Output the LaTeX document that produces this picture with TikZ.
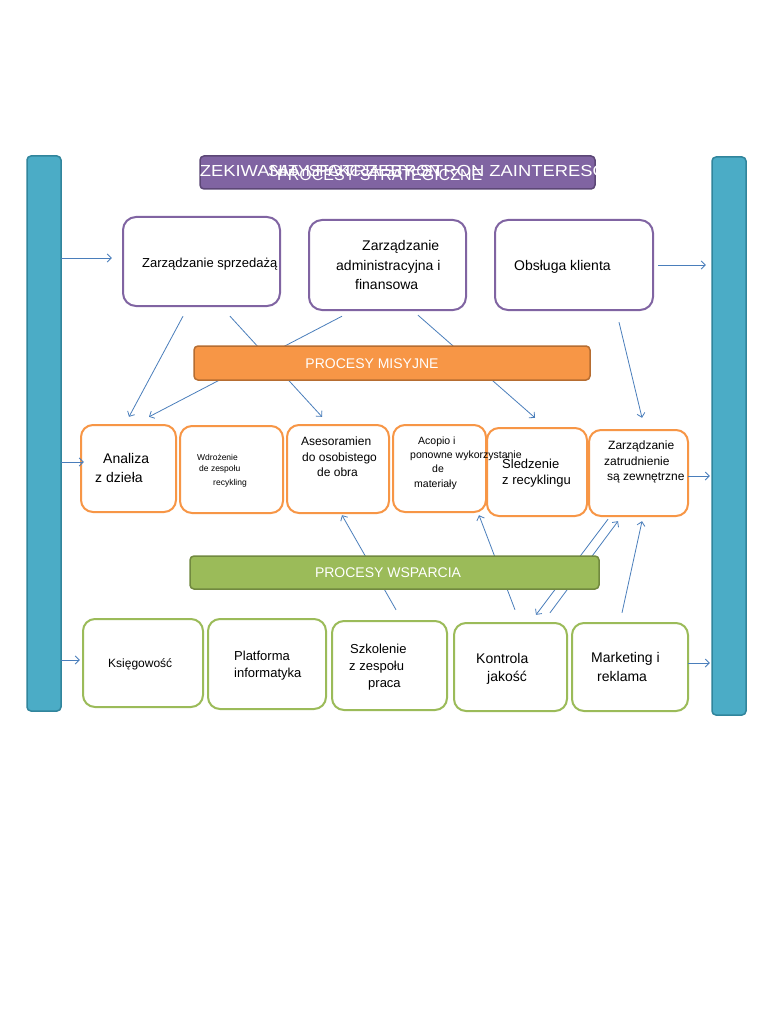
\documentclass[tikz,border=0pt]{standalone}
\usepackage{fontspec}
\setmainfont{Liberation Sans}
\usetikzlibrary{arrows.meta}
\definecolor{purp}{HTML}{8064A2}
\definecolor{purpd}{HTML}{5C4776}
\definecolor{orng}{HTML}{F79646}
\definecolor{orngd}{HTML}{B66D31}
\definecolor{grn}{HTML}{9BBB59}
\definecolor{grnd}{HTML}{71893F}
\definecolor{teal}{HTML}{4BACC6}
\definecolor{teald}{HTML}{31859C}
\definecolor{conn}{HTML}{4A7EBB}
\tikzset{
  sidebar/.style={draw=teald, fill=teal, line width=1.5pt, rounded corners=4pt},
  pbox/.style={draw=purp, fill=white, line width=2pt, rounded corners=13pt},
  obox/.style={draw=orng, fill=white, line width=2pt, rounded corners=12pt},
  gbox/.style={draw=grn, fill=white, line width=2pt, rounded corners=12pt},
  pbar/.style={draw=purpd, fill=purp, line width=1.5pt, rounded corners=4pt},
  obar/.style={draw=orngd, fill=orng, line width=1.5pt, rounded corners=4pt},
  gbar/.style={draw=grnd, fill=grn, line width=1.5pt, rounded corners=4pt},
  arr/.style={draw=conn, line width=0.8pt, -{Straight Barb[length=4pt,width=8pt]}},
  lbl/.style={anchor=base west, inner sep=0pt, text=black},
  wlbl/.style={anchor=base, inner sep=0pt, text=white, font=\fontsize{14}{16}\selectfont},
  tlbl/.style={anchor=base west, inner sep=0pt, text=white, font=\fontsize{16}{18}\selectfont},
}
\begin{document}
\begin{tikzpicture}[x=1pt,y=-1pt]
\useasboundingbox (0,0) rectangle (768,1024);
\fill[white] (0,0) rectangle (768,1024);

% side bars
\path[sidebar] (27,156) rectangle (61,711);
\node[inner sep=0pt, minimum width=34pt, minimum height=555pt] (lbar) at (44,433.5) {};
\path[sidebar] (712,157) rectangle (746,715);
\node[inner sep=0pt, minimum width=34pt, minimum height=558pt] (rbar) at (729,436) {};

% top row boxes
\path[pbox] (123,217) rectangle (280,306);
\node[inner sep=0pt, minimum width=157pt, minimum height=89pt] (b1) at (201.5,261.5) {};
\path[pbox] (309,220) rectangle (466,310);
\node[inner sep=0pt, minimum width=157pt, minimum height=90pt] (b2) at (387.5,265) {};
\path[pbox] (495,220) rectangle (653,310);
\node[inner sep=0pt, minimum width=158pt, minimum height=90pt] (b3) at (574,265) {};

% middle row boxes
\path[obox] (81,425) rectangle (176,512);
\node[inner sep=0pt, minimum width=95pt, minimum height=87pt] (m1) at (128.5,468.5) {};
\path[obox] (180,426) rectangle (283,513);
\node[inner sep=0pt, minimum width=103pt, minimum height=87pt] (m2) at (231.5,469.5) {};
\path[obox] (287,425) rectangle (389,513);
\node[inner sep=0pt, minimum width=102pt, minimum height=88pt] (m3) at (338,469) {};
\path[obox] (393,425) rectangle (486,512);
\node[inner sep=0pt, minimum width=93pt, minimum height=87pt] (m4) at (439.5,468.5) {};
\path[obox] (487,428) rectangle (587,516);
\node[inner sep=0pt, minimum width=100pt, minimum height=88pt] (m5) at (537,472) {};
\path[obox] (589,430) rectangle (688,516);
\node[inner sep=0pt, minimum width=99pt, minimum height=86pt] (m6) at (638.5,473) {};

% bottom row boxes
\path[gbox] (83,619) rectangle (203,707);
\node[inner sep=0pt, minimum width=120pt, minimum height=88pt] (s1) at (143,663) {};
\path[gbox] (208,619) rectangle (326,709);
\node[inner sep=0pt, minimum width=118pt, minimum height=90pt] (s2) at (267,664) {};
\path[gbox] (332,621) rectangle (447,710);
\node[inner sep=0pt, minimum width=115pt, minimum height=89pt] (s3) at (389.5,665.5) {};
\path[gbox] (454,623) rectangle (567,711);
\node[inner sep=0pt, minimum width=113pt, minimum height=88pt] (s4) at (510.5,667) {};
\path[gbox] (572,623) rectangle (688,711);
\node[inner sep=0pt, minimum width=116pt, minimum height=88pt] (s5) at (630,667) {};

% connectors (drawn before the process bars, which cover them)
\draw[arr] ([shift={(-18.5,10)}]b1.south) -- ([shift={(0.5,-8)}]m1.north);
\draw[arr] ([shift={(28.5,10)}]b1.south) -- ([shift={(-16,-8)}]m3.north);
\draw[arr] ([shift={(-45.5,6)}]b2.south) -- ([shift={(20.5,-8)}]m1.north);
\draw[arr] ([shift={(30.5,5)}]b2.south) -- ([shift={(-2,-10)}]m5.north);
\draw[arr] ([shift={(45,12)}]b3.south) -- ([shift={(3.5,-12)}]m6.north);

\draw[arr] ([shift={(6.5,-11)}]s3.north) -- ([shift={(4,2)}]m3.south);
\draw[arr] ([shift={(4.5,-13)}]s4.north) -- ([shift={(39.5,3)}]m4.south);
\draw[arr] ([shift={(-30.5,3)}]m6.south) -- ([shift={(25.5,-8)}]s4.north);
\draw[arr] ([shift={(39.5,-10)}]s4.north) -- ([shift={(-20.5,5)}]m6.south);
\draw[arr] ([shift={(-8,-10)}]s5.north) -- ([shift={(3.5,5)}]m6.south);

% side connectors
\coordinate (c1a) at ([yshift=3.5pt]lbar.east |- b1.west);
\coordinate (c1b) at ([shift={(-11,-3.5)}]b1.west);
\draw[arr] (c1a) -- (c1b);
\coordinate (c2a) at ([xshift=5pt]b3.east);
\coordinate (c2b) at ([xshift=-6pt]rbar.west |- b3.east);
\draw[arr] (c2a) -- (c2b);
\coordinate (c3a) at ([yshift=6.5pt]lbar.east |- m1.west);
\coordinate (c3b) at ([shift={(3,-6.5)}]m1.west);
\draw[arr] (c3a) -- (c3b);
\coordinate (c4a) at ([yshift=-3pt]m6.east);
\coordinate (c4b) at ([xshift=-2pt,yshift=-3pt]rbar.west |- m6.east);
\draw[arr] (c4a) -- (c4b);
\coordinate (c5a) at ([yshift=3pt]lbar.east |- s1.west);
\coordinate (c5b) at ([shift={(-3,-3)}]s1.west);
\draw[arr] (c5a) -- (c5b);
\coordinate (c6a) at ([yshift=4pt]s5.east);
\coordinate (c6b) at ([xshift=-2pt,yshift=4pt]rbar.west |- s5.east);
\draw[arr] (c6a) -- (c6b);

% process bars
\path[pbar] (200,156) rectangle (595,189);
\node[inner sep=0pt, minimum width=395pt, minimum height=33pt] (tbar) at (397.5,172.5) {};
\path[obar] (194,346) rectangle (590,380);
\node[inner sep=0pt, minimum width=396pt, minimum height=34pt] (obarn) at (392,363) {};
\path[gbar] (190,556) rectangle (599,589);
\node[inner sep=0pt, minimum width=409pt, minimum height=33pt] (gbarn) at (394.5,572.5) {};

\begin{scope}
  \clip (199,156) rectangle (598,189);
  \node[tlbl] (tt1) at (172,177) {\scalebox{1.15}[1]{OCZEKIWANIA I POTRZEBY STRON ZAINTERESOWANYCH}};
  \node[tlbl] (tt2) at (268,177) {SATYSFAKCJA STRON};
  \node[tlbl] (tt3) at (277,181) {PROCESY STRATEGICZNE};
\end{scope}
\node[wlbl] (ot) at (372,368) {PROCESY MISYJNE};
\node[wlbl] (gt) at (388,577) {PROCESY WSPARCIA};

% labels, top row
\node[lbl, font=\fontsize{13}{15}\selectfont] (b1l1) at (142,267) {Zarządzanie sprzedażą};
\node[lbl, font=\fontsize{14}{16}\selectfont] (b2l1) at (362,251) {Zarządzanie};
\node[lbl, font=\fontsize{14}{16}\selectfont] (b2l2) at (336,270) {administracyjna i};
\node[lbl, font=\fontsize{14}{16}\selectfont] (b2l3) at (355,289) {finansowa};
\node[lbl, font=\fontsize{14}{16}\selectfont] (b3l1) at (514,270) {Obsługa klienta};

% labels, middle row
\node[lbl, font=\fontsize{14}{16}\selectfont] (m1l1) at (103,463) {Analiza};
\node[lbl, font=\fontsize{14}{16}\selectfont] (m1l2) at (95,482) {z dzieła};
\node[lbl, font=\fontsize{8.5}{10}\selectfont] (m2l1) at (197,460) {Wdrożenie};
\node[lbl, font=\fontsize{8.5}{10}\selectfont] (m2l2) at (199,471) {de zespołu};
\node[lbl, font=\fontsize{8.5}{10}\selectfont] (m2l3) at (213,485) {recykling};
\node[lbl, font=\fontsize{12}{14}\selectfont] (m3l1) at (301,445) {Asesoramien};
\node[lbl, font=\fontsize{12}{14}\selectfont] (m3l2) at (302,461) {do osobistego};
\node[lbl, font=\fontsize{12}{14}\selectfont] (m3l3) at (317,476) {de obra};
\node[lbl, font=\fontsize{10.5}{12}\selectfont] (m4l1) at (418,444) {Acopio i};
\node[lbl, font=\fontsize{10.5}{12}\selectfont] (m4l2) at (410,458) {ponowne wykorzystanie};
\node[lbl, font=\fontsize{10.5}{12}\selectfont] (m4l3) at (432,472) {de};
\node[lbl, font=\fontsize{10.5}{12}\selectfont] (m4l4) at (414,487) {materiały};
\node[lbl, font=\fontsize{13}{15}\selectfont] (m5l1) at (502,468) {Śledzenie};
\node[lbl, font=\fontsize{13}{15}\selectfont] (m5l2) at (502,484) {z recyklingu};
\node[lbl, font=\fontsize{12}{14}\selectfont] (m6l1) at (608,449) {Zarządzanie};
\node[lbl, font=\fontsize{12}{14}\selectfont] (m6l2) at (604,465) {zatrudnienie};
\node[lbl, font=\fontsize{12}{14}\selectfont] (m6l3) at (607,480) {są zewnętrzne};

% labels, bottom row
\node[lbl, font=\fontsize{12}{14}\selectfont] (s1l1) at (108,667) {Księgowość};
\node[lbl, font=\fontsize{13}{15}\selectfont] (s2l1) at (234,660) {Platforma};
\node[lbl, font=\fontsize{13}{15}\selectfont] (s2l2) at (234,677) {informatyka};
\node[lbl, font=\fontsize{13}{15}\selectfont] (s3l1) at (350,653) {Szkolenie};
\node[lbl, font=\fontsize{13}{15}\selectfont] (s3l2) at (349,670) {z zespołu};
\node[lbl, font=\fontsize{13}{15}\selectfont] (s3l3) at (368,687) {praca};
\node[lbl, font=\fontsize{14}{16}\selectfont] (s4l1) at (476,663) {Kontrola};
\node[lbl, font=\fontsize{14}{16}\selectfont] (s4l2) at (487,681) {jakość};
\node[lbl, font=\fontsize{14}{16}\selectfont] (s5l1) at (591,662) {Marketing i};
\node[lbl, font=\fontsize{14}{16}\selectfont] (s5l2) at (597,681) {reklama};
\end{tikzpicture}
\end{document}
